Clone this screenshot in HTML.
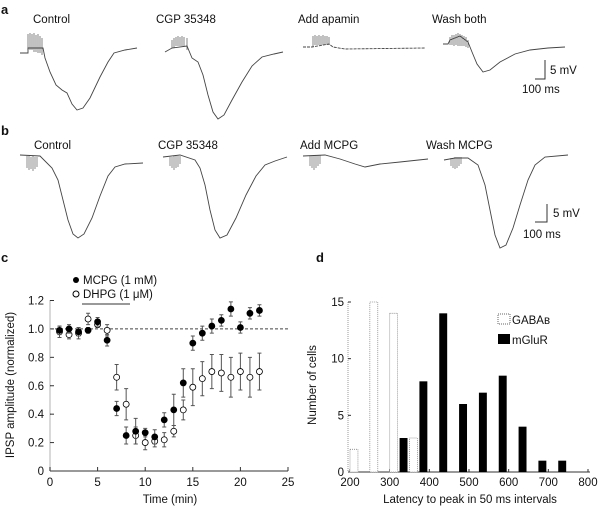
<!DOCTYPE html>
<html><head><meta charset="utf-8"><style>
body{margin:0;background:#fff}
svg{display:block;font-family:"Liberation Sans",sans-serif}
</style></head><body>
<svg id="fig" width="600" height="508" viewBox="0 0 600 508" xmlns="http://www.w3.org/2000/svg">
<g font-size="11.5" fill="#111">
<text x="1" y="14" font-weight="bold" font-size="13">a</text>
<text x="33" y="23">Control</text>
<text x="156" y="23">CGP 35348</text>
<text x="298" y="23">Add apamin</text>
<text x="432" y="23">Wash both</text>
<g fill="none" stroke="#444" stroke-width="0.9">
<path d="M20,53 L28,53 L28,48 L43,48 L45,58 L50,72 L56,85 L62,90 L67,93 L72,104 L77,110 L83,108 L90,98 L100,77 L108,62 L114,53 L125,50 L137,48"/>
<path d="M165,52 L172,48 L187,46 L192,58 L198,62 L203,75 L208,95 L213,112 L218,119 L224,115 L232,100 L242,82 L252,66 L262,57 L274,54 L283,52"/>
<path d="M303,47 L312,47 L329,44 L333,47 L345,49 L425,48" stroke-dasharray="3,1"/>
<path d="M443,44 L448,44 L450,40 L460,36 L468,42 L472,52 L477,64 L483,72 L490,70 L500,62 L515,54 L530,50 L548,48 L565,47"/>
</g>
<g stroke="#333" stroke-width="0.6">
<path d="M28,50 V34 M30,50 V33 M32,50 V34 M34,52 V33 M36,52 V35 M38,53 V34 M40,53 V36 M42,55 V38"/>
<path d="M172,48 V40 M174,48 V38 M176,46 V37 M178,46 V36 M180,46 V37 M182,46 V36 M184,46 V37 M187,50 V38"/>
<path d="M313,47 V36 M315,45 V35 M317,45 V36 M319,45 V35 M321,45 V36 M323,45 V35 M325,45 V36 M327,45 V36 M329,45 V37"/>
<path d="M450,45 V37 M452,45 V35 M454,46 V35 M456,45 V34 M458,46 V33 M460,46 V34 M462,46 V35 M464,46 V36 M466,47 V37 M468,48 V40"/>
</g>
<path d="M545,60 V79 H535" fill="none" stroke="#333"/>
<text x="550" y="74">5 mV</text>
<text x="522" y="93">100 ms</text>
</g>

<g font-size="11.5" fill="#111">
<text x="1" y="135" font-weight="bold" font-size="13">b</text>
<text x="34" y="149">Control</text>
<text x="158" y="149">CGP 35348</text>
<text x="300" y="149">Add MCPG</text>
<text x="426" y="149">Wash MCPG</text>
<g fill="none" stroke="#444" stroke-width="0.9">
<path d="M20,155 L40,156 L52,168 L58,180 L63,200 L68,220 L73,234 L78,238 L84,234 L92,218 L100,196 L108,176 L115,167 L125,164 L143,163"/>
<path d="M163,157 L180,155 L195,160 L200,168 L205,185 L210,210 L215,230 L220,238 L227,235 L236,218 L246,195 L256,176 L265,165 L275,161 L287,157"/>
<path d="M303,156 L325,155 L340,159 L355,164 L365,167 L380,164 L400,162 L428,159"/>
<path d="M444,160 L455,158 L468,158 L478,165 L485,185 L490,210 L495,235 L500,248 L506,245 L513,228 L520,205 L528,180 L535,165 L545,157 L568,155"/>
</g>
<g stroke="#444" stroke-width="0.6">
<path d="M27,156 V168 M29,156 V170 M31,157 V169 M33,156 V171 M35,157 V169 M37,157 V167"/>
<path d="M170,157 V166 M172,157 V168 M174,156 V170 M176,156 V168 M178,156 V167 M180,156 V164"/>
<path d="M310,156 V166 M312,156 V168 M314,156 V170 M316,155 V168 M318,155 V166 M320,155 V164"/>
<path d="M451,158 V166 M453,158 V168 M455,157 V169 M457,157 V168 M459,157 V166 M461,157 V164"/>
</g>
<path d="M547,204 V222 H535" fill="none" stroke="#333"/>
<text x="553" y="217">5 mV</text>
<text x="523" y="238">100 ms</text>
</g>

<g id="panelC" font-size="11.5" fill="#111">
<text x="1" y="262" font-weight="bold" font-size="13">c</text>
</g>
<g id="panelD" font-size="11.5" fill="#111">
<text x="316" y="262" font-weight="bold" font-size="13">d</text>
</g>
</svg>
<script>
const NS="http://www.w3.org/2000/svg";
// Panel c data
const cTimes=[1,2,3,4,5,6,7,8,9,10,11,12,13,14,15,16,17,18,19,20,21,22];
const mcpgVals=[0.99,1.0,0.98,0.99,1.05,0.92,0.44,0.25,0.28,0.27,0.24,0.36,0.43,0.62,0.90,0.97,1.02,1.06,1.14,1.01,1.11,1.13];
const mcpgErr=[0.03,0.03,0.03,0.02,0.03,0.04,0.05,0.06,0.09,0.03,0.05,0.05,0.11,0.10,0.05,0.05,0.05,0.04,0.05,0.04,0.04,0.04];
const dhpgVals=[0.98,0.96,0.97,1.07,1.03,0.99,0.66,0.47,0.25,0.20,0.21,0.22,0.28,0.43,0.59,0.65,0.70,0.69,0.66,0.70,0.66,0.70];
const dhpgErr=[0.04,0.03,0.04,0.04,0.02,0.04,0.09,0.11,0.06,0.05,0.04,0.05,0.04,0.07,0.13,0.12,0.12,0.13,0.14,0.13,0.14,0.13];
const cXTicks=[0,5,10,15,20,25];
const cYTicks=[0,0.2,0.4,0.6,0.8,1.0,1.2];
// Panel d data
const latencyBins=[200,250,300,350];
const gabaCounts=[2,15,14,3];
const mgluBins=[325,375,425,475,525,575,625,675,725];
const mgluCounts=[3,8,14,6,7,8.5,4,1,1];
const dXTicks=[200,300,400,500,600,700,800];
const dYTicks=[0,5,10,15];

function mk(tag,attrs,parent,text){const e=document.createElementNS(NS,tag);for(const k in attrs)e.setAttribute(k,attrs[k]);if(text!==undefined)e.textContent=text;parent.appendChild(e);return e;}

// Panel C
const gc=document.getElementById('panelC');
const cx=t=>50+t*(238/25);
const cy=v=>471-v*(170.5/1.2);
let ax=mk('line',{x1:50,y1:cy(1.2),x2:50,y2:471,stroke:'#999','stroke-width':1.5,'stroke-dasharray':'1,1'},gc);


ax=mk('line',{x1:50,y1:471,x2:288,y2:471,stroke:'#333'},gc);


cXTicks.forEach(t=>{
  const l=mk('line',{x1:cx(t),y1:471,x2:cx(t),y2:467,stroke:'#333'},gc);
  
  
  const tx=mk('text',{x:cx(t),y:486,'text-anchor':'middle'},gc,String(t));
  
  
});
cYTicks.forEach(v=>{
  const l=mk('line',{x1:50,y1:cy(v),x2:54,y2:cy(v),stroke:'#333'},gc);
  
  
  const tx=mk('text',{x:44,y:cy(v)+4,'text-anchor':'end'},gc,v===0?'0':v.toFixed(1));
  
  
});
let dl=mk('line',{x1:50,y1:cy(1),x2:288,y2:cy(1),stroke:'#444','stroke-dasharray':'3,2'},gc);


let t1=mk('text',{x:170,y:503,'text-anchor':'middle'},gc,'Time (min)');


let t2=mk('text',{x:14,y:385,'text-anchor':'middle',transform:'rotate(-90 14 385)'},gc,'IPSP amplitude (normalized)');


function series(vals,errs,filled,name){
  vals.forEach((v,i)=>{
    const x=cx(cTimes[i]);
    const e=mk('path',{d:`M${x},${cy(v-errs[i])} V${cy(v+errs[i])} M${x-2},${cy(v-errs[i])} H${x+2} M${x-2},${cy(v+errs[i])} H${x+2}`,stroke:'#555',fill:'none'},gc);
    
    
  });
  vals.forEach((v,i)=>{
    const c=mk('circle',{cx:cx(cTimes[i]),cy:cy(v),r:3,fill:filled?'#000':'#fff',stroke:'#000','stroke-width':0.8},gc);
    
    
  });
}
series(dhpgVals,dhpgErr,false,'dhpg');
series(mcpgVals,mcpgErr,true,'mcpg');
let lg=mk('circle',{cx:76,cy:280,r:3,fill:'#000'},gc);


lg=mk('text',{x:83,y:284},gc,'MCPG (1 mM)');


lg=mk('circle',{cx:76,cy:294,r:3,fill:'#fff',stroke:'#000'},gc);


lg=mk('text',{x:83,y:298},gc,'DHPG  (1 μM)');


lg=mk('line',{x1:82,y1:304,x2:130,y2:304,stroke:'#333'},gc);



// Panel D
const gd=document.getElementById('panelD');
const dx=v=>350+(v-200)*(238/600);
const dy=v=>472-v*(170/15);
ax=mk('line',{x1:348,y1:dy(15),x2:348,y2:472,stroke:'#999','stroke-width':1,'stroke-dasharray':'1,1'},gd);


ax=mk('line',{x1:348,y1:472,x2:590,y2:472,stroke:'#333'},gd);


dXTicks.forEach(t=>{
  const l=mk('line',{x1:dx(t),y1:472,x2:dx(t),y2:469,stroke:'#333'},gd);
  
  
  const tx=mk('text',{x:dx(t),y:486,'text-anchor':'middle'},gd,String(t));
  
  
});
dYTicks.forEach(v=>{
  const l=mk('line',{x1:348,y1:dy(v),x2:351,y2:dy(v),stroke:'#333'},gd);
  
  
  const tx=mk('text',{x:344,y:dy(v)+4,'text-anchor':'end'},gd,String(v));
  
  
});
gabaCounts.forEach((c,i)=>{
  const x0=dx(latencyBins[i]);
  const r=mk('rect',{x:x0,y:dy(c),width:dx(latencyBins[i]+20)-x0,height:472-dy(c),fill:'#fff',stroke:'#888','stroke-width':0.8,'stroke-dasharray':'1,1'},gd);
  
  
});
mgluCounts.forEach((c,i)=>{
  const x0=dx(mgluBins[i]);
  const r=mk('rect',{x:x0,y:dy(c),width:dx(mgluBins[i]+20)-x0,height:472-dy(c),fill:'#000'},gd);
  
  
});
lg=mk('rect',{x:498,y:314,width:12,height:10,fill:'#fff',stroke:'#666','stroke-dasharray':'1,1'},gd);


lg=mk('text',{x:512,y:324},gd,'GABAʙ');


lg=mk('rect',{x:498,y:334,width:12,height:10,fill:'#000'},gd);


lg=mk('text',{x:512,y:344},gd,'mGluR');


t1=mk('text',{x:470,y:503,'text-anchor':'middle'},gd,'Latency to peak in 50 ms intervals');


t2=mk('text',{x:316,y:385,'text-anchor':'middle',transform:'rotate(-90 316 385)'},gd,'Number of cells');


</script>
</body></html>
